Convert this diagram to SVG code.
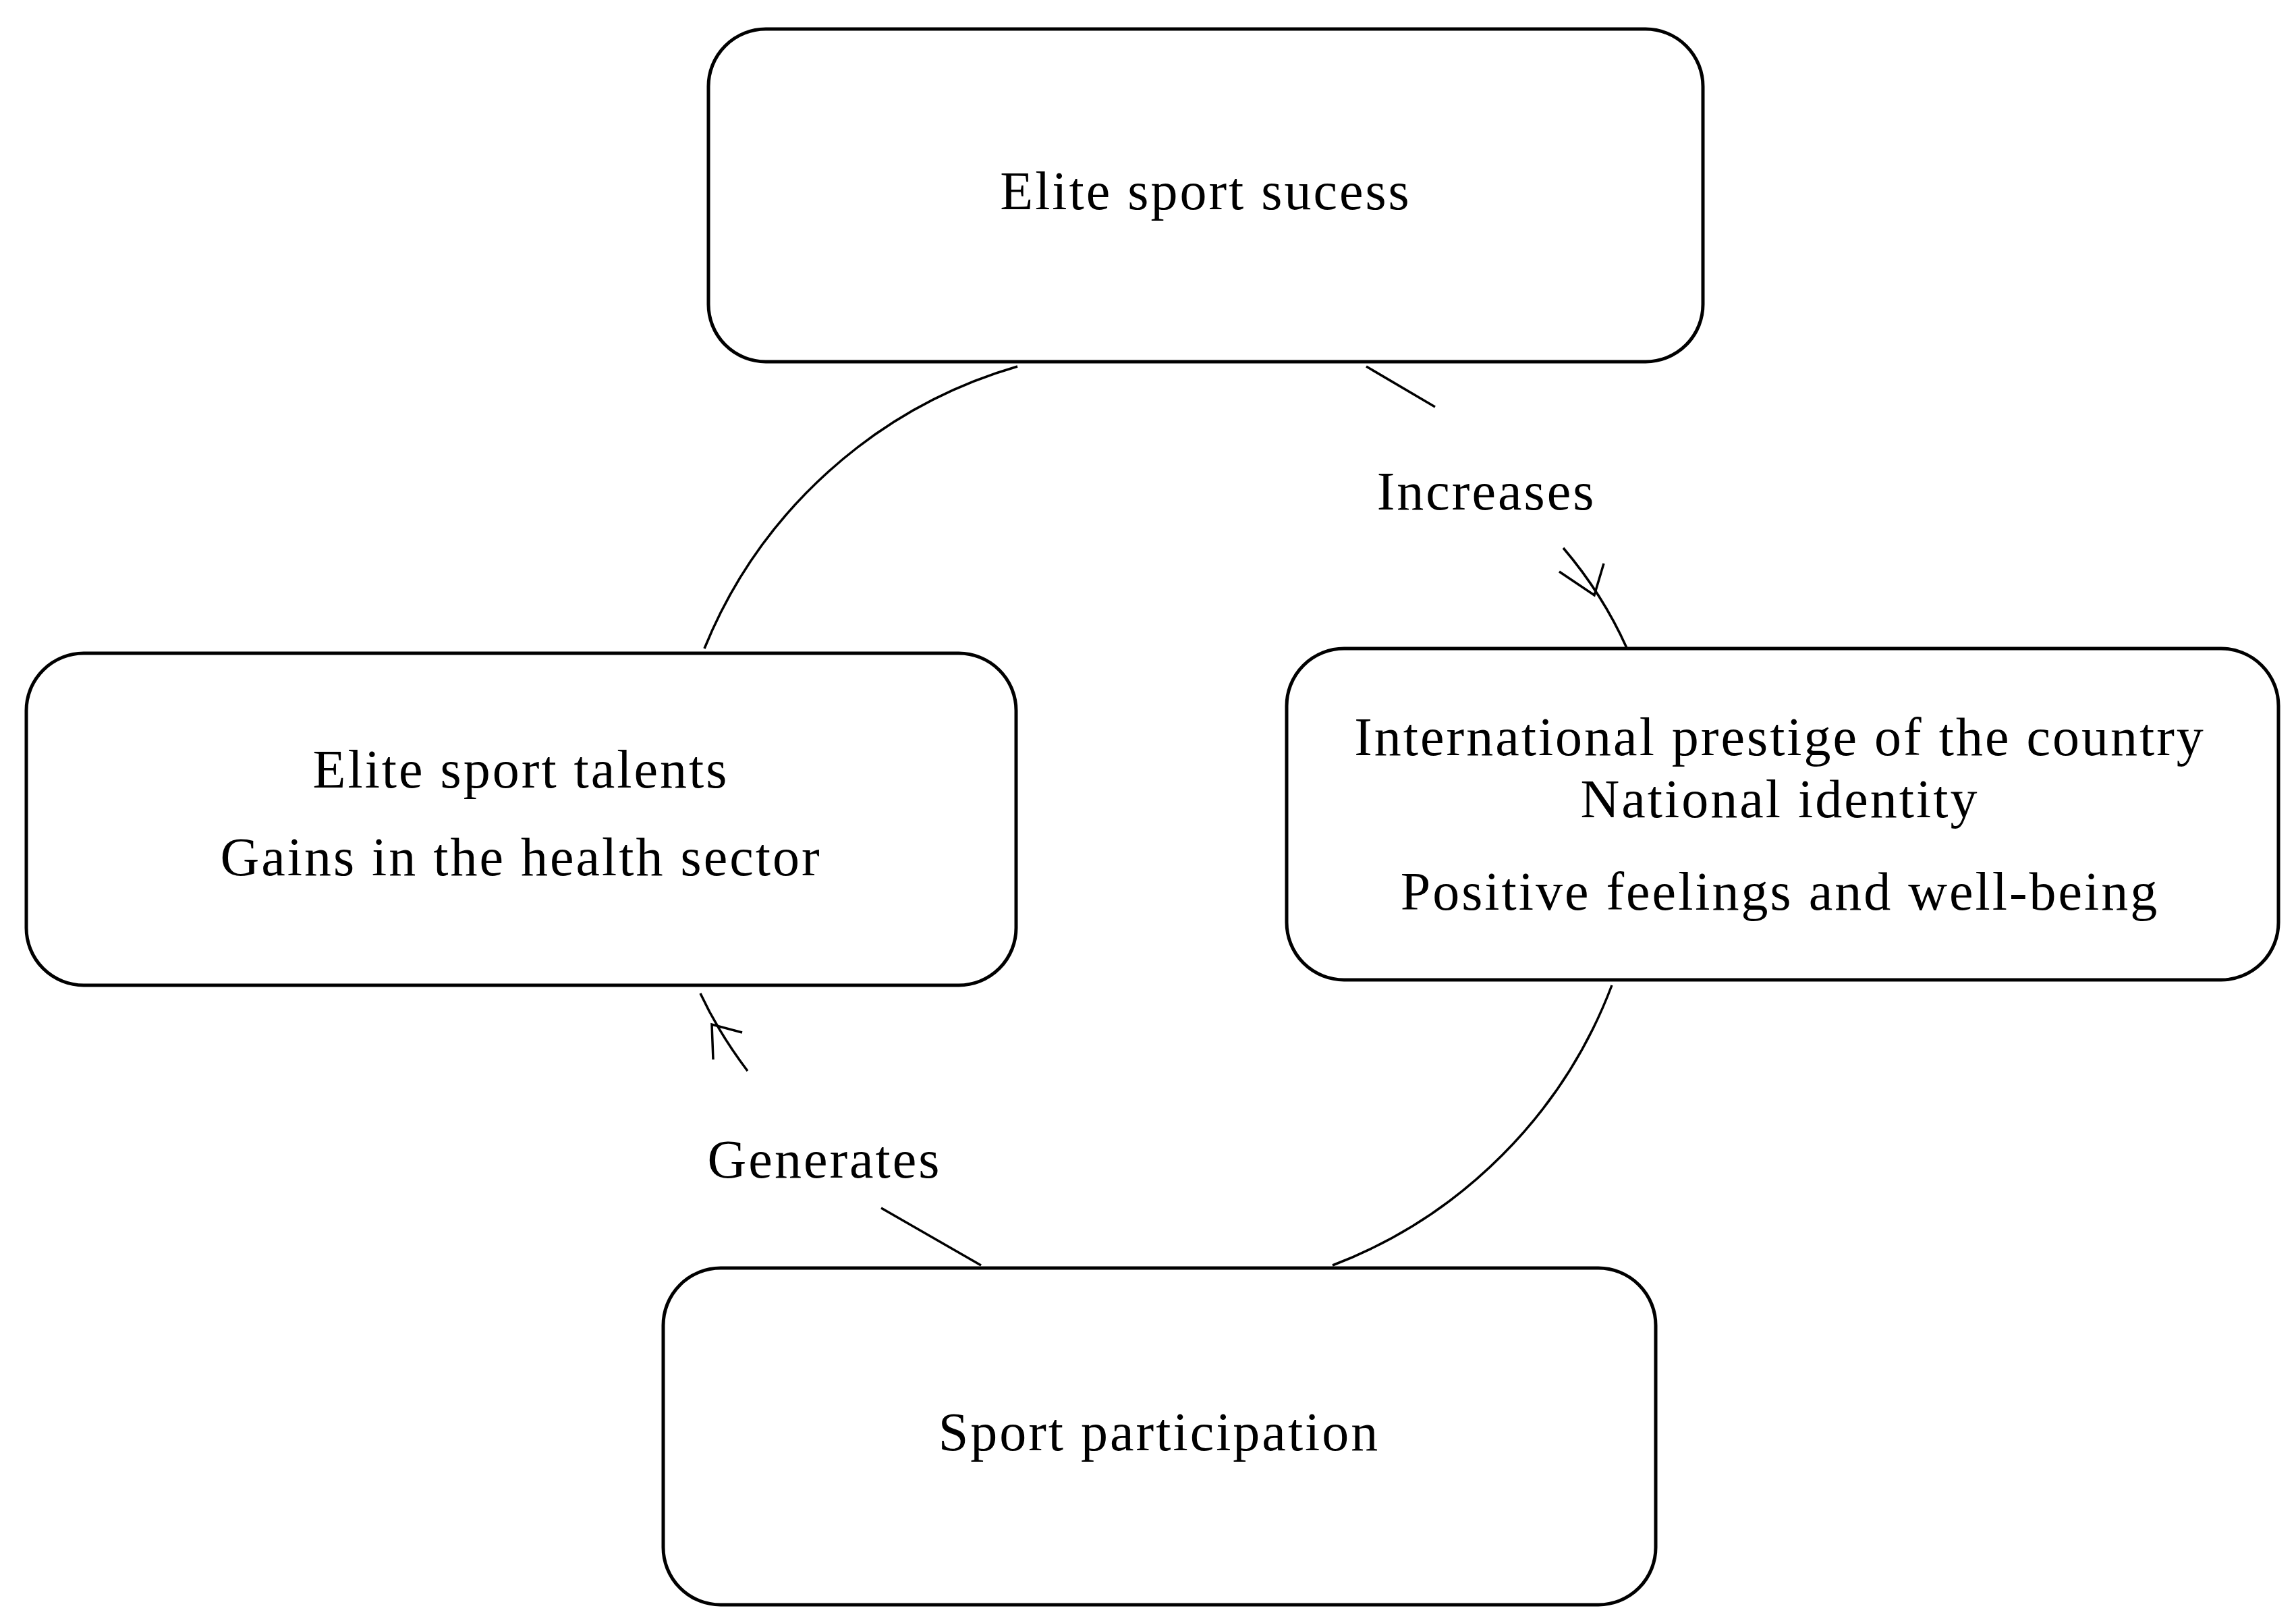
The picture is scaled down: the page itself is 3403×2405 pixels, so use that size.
<svg xmlns="http://www.w3.org/2000/svg" width="3403" height="2405" viewBox="0 0 3403 2405">
<style>
.box{fill:#fff;stroke:#000;stroke-width:5}
.ln{fill:none;stroke:#000;stroke-width:3.5}
text{font-family:"Liberation Serif","DejaVu Serif",serif;font-size:80px;letter-spacing:3px;fill:#000;text-anchor:middle}
</style>
<rect width="3403" height="2405" fill="#fff"/>
<g id="connectors">
<path class="ln" d="M1508,543 A716,716 0 0 0 1044,961"/>
<path class="ln" d="M2025,543 L2127,603"/>
<path class="ln" d="M2317,812 Q2375,880 2411,960"/>
<polyline class="ln" points="2311,847 2363,882 2377,835"/>
<path class="ln" d="M2389,1460 A716,716 0 0 1 1975,1875"/>
<path class="ln" d="M1454,1875 L1306,1790"/>
<path class="ln" d="M1108,1587 Q1065,1530 1038,1472"/>
<polyline class="ln" points="1057,1570 1055,1518 1100,1530"/>
</g>
<g id="top"><rect class="box" x="1050" y="43" width="1474" height="493" rx="85"/><text x="1787" y="310">Elite sport sucess</text></g>
<g id="left"><rect class="box" x="39" y="968" width="1467" height="492" rx="85"/><text x="772" y="1167">Elite sport talents</text><text x="772" y="1297">Gains in the health sector</text></g>
<g id="right"><rect class="box" x="1907" y="961" width="1470" height="491" rx="85"/><text x="2638" y="1119">International prestige of the country</text><text x="2638" y="1211">National identity</text><text x="2638" y="1348">Positive feelings and well-being</text></g>
<g id="bottom"><rect class="box" x="983" y="1879" width="1471" height="499" rx="85"/><text x="1718" y="2149">Sport participation</text></g>
<text x="2203" y="755">Increases</text>
<text x="1222" y="1745">Generates</text>
</svg>
